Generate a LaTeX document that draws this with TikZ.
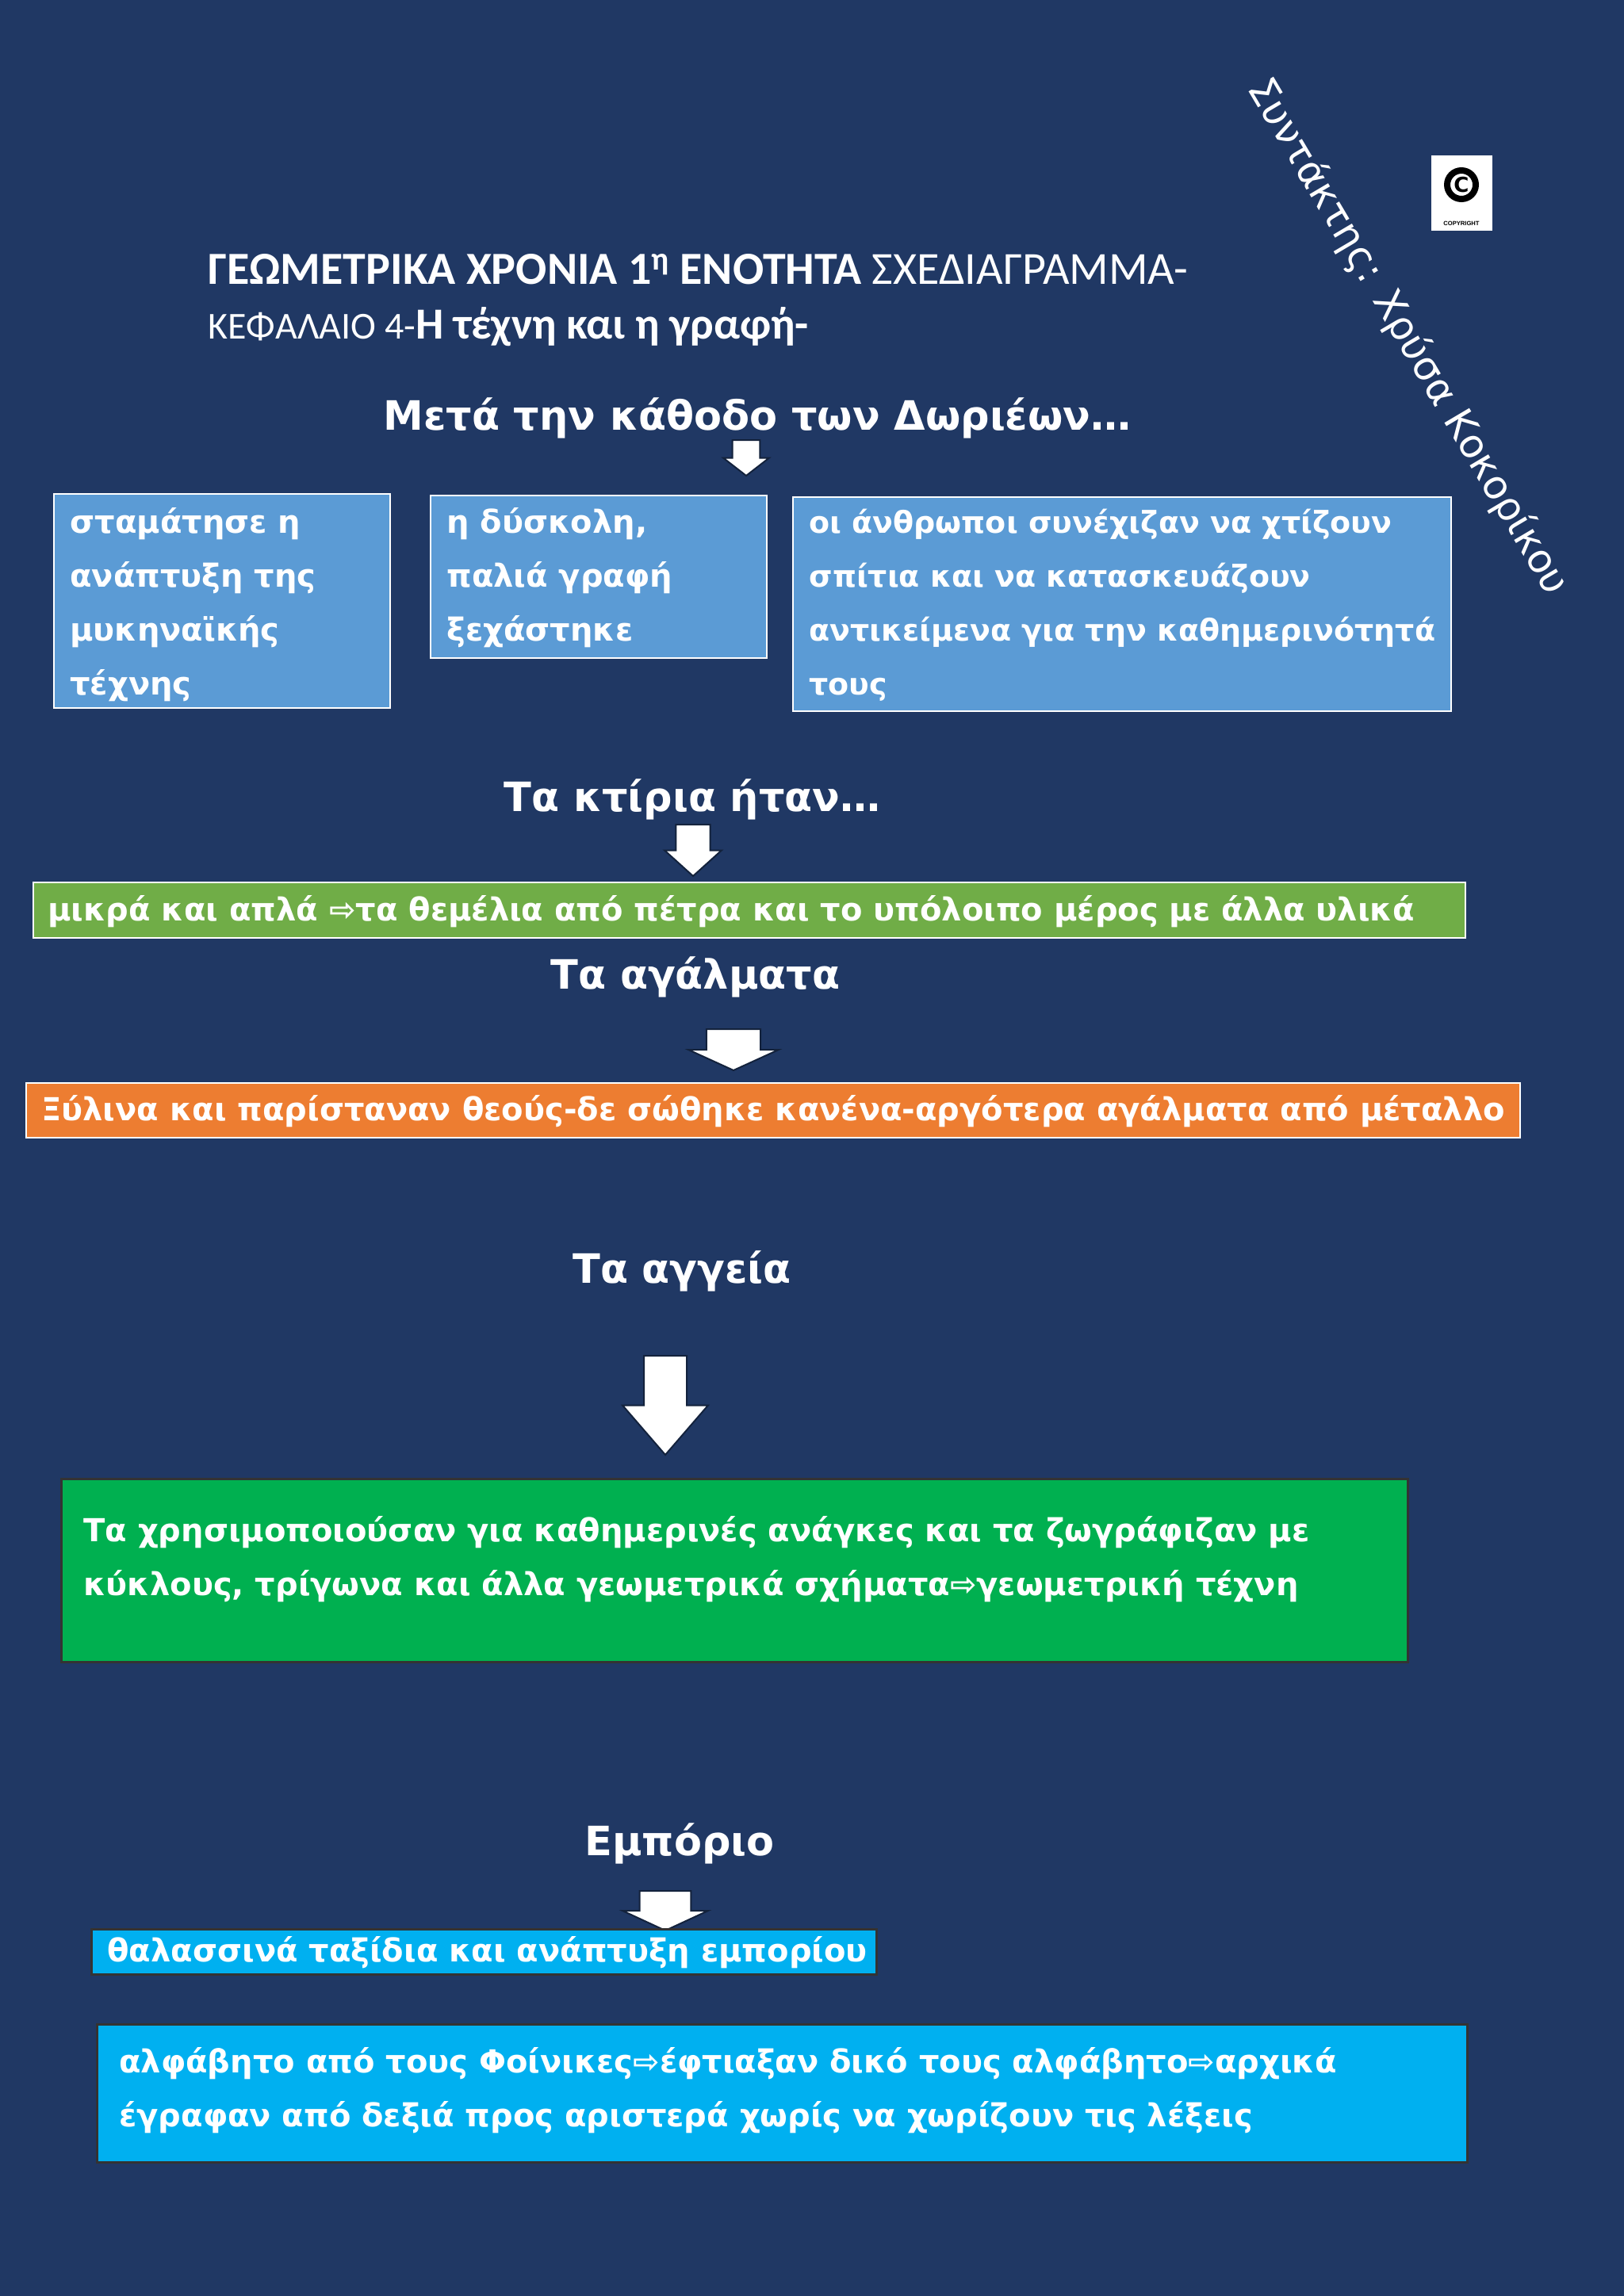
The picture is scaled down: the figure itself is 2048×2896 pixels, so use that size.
\documentclass[tikz,border=0pt]{standalone}
\usepackage{fontspec}
\setmainfont{DejaVu Sans}
\newfontfamily\titlef{Carlito}
\newfontfamily\cf{Liberation Sans}
\definecolor{bg}{HTML}{203864}
\definecolor{lb}{HTML}{5B9BD5}
\definecolor{gr}{HTML}{70AD47}
\definecolor{org}{HTML}{ED7D31}
\definecolor{gg}{HTML}{00B050}
\definecolor{cy}{HTML}{00B0F0}
\tikzset{
 px/.style={x=0.5pt,y=-0.5pt},
 bx/.style={draw=white,line width=1pt},
 bxd/.style={draw=black!80,line width=1.5pt},
 txt/.style={text=white,font=\bfseries\fontsize{20}{34}\selectfont,align=left,anchor=north west,inner sep=0pt},
 head/.style={text=white,font=\bfseries\fontsize{25.5}{30}\selectfont,inner sep=0pt},
 barrow/.style={fill=white,draw=bg!60!black,line width=1pt}
}
\newcommand{\blockarrow}[5]{% x1,y1,x2,y2 (bbox), shaft fraction
 \fill[barrow] ({#1+(#3-#1)*(1-#5)/2},#2) -- ({#3-(#3-#1)*(1-#5)/2},#2) -- ({#3-(#3-#1)*(1-#5)/2},{#2+(#4-#2)*0.5}) -- (#3,{#2+(#4-#2)*0.5}) -- ({(#1+#3)/2},#4) -- (#1,{#2+(#4-#2)*0.5}) -- ({#1+(#3-#1)*(1-#5)/2},{#2+(#4-#2)*0.5}) -- cycle;}
\begin{document}
\begin{tikzpicture}[px]
\fill[bg] (0,0) rectangle (2048,2896);
\useasboundingbox (0,0) rectangle (2048,2896);
% title
\node[anchor=west,text=white,inner sep=0pt,font=\titlef\bfseries\fontsize{29}{32}\selectfont] (t1) at (262,340) {ΓΕΩΜΕΤΡΙΚΑ ΧΡΟΝΙΑ 1\textsuperscript{η} ΕΝΟΤΗΤΑ \mdseries ΣΧΕΔΙΑΓΡΑΜΜΑ-};
\node[anchor=west,text=white,inner sep=0pt,font=\titlef\fontsize{24}{28}\selectfont] (t2) at (262,412) {ΚΕΦΑΛΑΙΟ 4-{\bfseries\fontsize{28}{30}\selectfont Η τέχνη και η γραφή-}};
% author
\node[rotate=-59.4,text=white,font=\fontsize{25}{28}\selectfont,inner sep=0pt] (auth) at (1775,425) {Συντάκτης: Χρύσα Κοκορίκου};
\node[fill=white,minimum width=38.5pt,minimum height=47.5pt,inner sep=0pt] (copy) at (1843,243) {};
\draw[line width=4pt] (1843,233) circle (18);
\node[font=\bfseries\fontsize{13}{13}\selectfont,inner sep=0pt] at (1843,233) {C};
\node[font=\cf\bfseries\fontsize{3.8}{4}\selectfont,inner sep=0pt] at (1843,282) {COPYRIGHT};
% heading 1
\node[head] (h1) at (955,527) {Μετά την κάθοδο των Δωριέων…};
\blockarrow{912}{555}{970}{600}{0.6}
\draw[bx,fill=lb] (68,623) rectangle (492,893);
\node[txt] (b1) at (88,640) {σταμάτησε η\\ανάπτυξη της\\μυκηναϊκής\\τέχνης};
\draw[bx,fill=lb] (543,625) rectangle (967,830);
\node[txt] (b2) at (563,640) {η δύσκολη,\\παλιά γραφή\\ξεχάστηκε};
\draw[bx,fill=lb] (1000,627) rectangle (1830,897);
\node[txt,font=\bfseries\fontsize{19}{34}\selectfont] (b3) at (1020,642) {οι άνθρωποι συνέχιζαν να χτίζουν\\σπίτια και να κατασκευάζουν\\αντικείμενα για την καθημερινότητά\\τους};
% buildings
\node[head] (h2) at (873,1008) {Τα κτίρια ήταν…};
\blockarrow{838}{1040}{910}{1105}{0.6}
\draw[bx,fill=gr] (42,1113) rectangle (1848,1183);
\node[txt,anchor=west] (g1) at (60,1150) {μικρά και απλά ⇨τα θεμέλια από πέτρα και το υπόλοιπο μέρος με άλλα υλικά};
% statues
\node[head] (h3) at (877,1232) {Τα αγάλματα};
\blockarrow{868}{1298}{982}{1350}{0.6}
\draw[bx,fill=org] (33,1366) rectangle (1917,1435);
\node[txt,anchor=west] (o1) at (52,1402) {Ξύλινα και παρίσταναν θεούς-δε σώθηκε κανένα-αργότερα αγάλματα από μέταλλο};
% vessels
\node[head] (h4) at (860,1603) {Τα αγγεία};
\blockarrow{785}{1710}{893}{1835}{0.5}
\draw[bxd,fill=gg] (77,1865) rectangle (1775,2096);
\node[txt] (v1) at (105,1912) {Τα χρησιμοποιούσαν για καθημερινές ανάγκες και τα ζωγράφιζαν με\\κύκλους, τρίγωνα και άλλα γεωμετρικά σχήματα⇨γεωμετρική τέχνη};
% trade
\node[head] (h5) at (857,2325) {Εμπόριο};
\blockarrow{785}{2385}{893}{2435}{0.6}
\draw[bxd,fill=cy] (115,2433) rectangle (1105,2490);
\node[txt,anchor=west] (c1) at (135,2463) {θαλασσινά ταξίδια και ανάπτυξη εμπορίου};
\draw[bxd,fill=cy] (122,2553) rectangle (1850,2727);
\node[txt] (c2) at (150,2582) {αλφάβητο από τους Φοίνικες⇨έφτιαξαν δικό τους αλφάβητο⇨αρχικά\\έγραφαν από δεξιά προς αριστερά χωρίς να χωρίζουν τις λέξεις};
\end{tikzpicture}
\end{document}
